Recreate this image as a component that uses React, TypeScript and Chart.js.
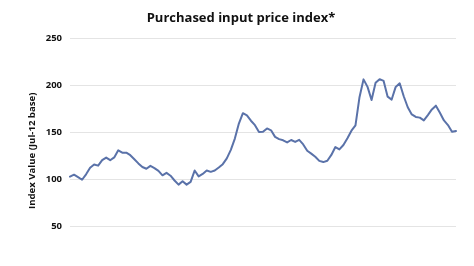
import React, { useEffect, useRef } from "react";
import { Chart, registerables } from "chart.js";

Chart.register(...registerables);

const TITLE = "Purchased input price index*";
const Y_TITLE = "Index Value (Jul-12 base)";
const Y_TICKS = [50, 100, 150, 200, 250];

const INDEX_VALUES = [
  102.5, 104.6, 102, 99.2, 105, 112, 115.4, 114.2, 120, 122.8,
  120, 123, 130.5, 128, 128, 125.3, 121, 116.6, 112.8, 110.9,
  114, 111.6, 108.7, 103.9, 106.5, 103.5, 98.4, 94, 97.6, 94,
  97, 109, 102.8, 105.4, 109, 107.6, 109, 112.2, 115.8, 122,
  131, 143, 159, 170, 167.7, 162, 157.3, 150, 150.2, 153.8,
  151.8, 144.8, 142.4, 141.2, 138.9, 141.5, 139.5, 141.6, 136.8, 130,
  127, 123.7, 119.3, 118, 119.4, 125.6, 134, 131.5, 136.2, 143.4,
  151.4, 157, 187, 206, 198, 184, 202.3, 206.2, 204.3, 187.6,
  184.5, 198, 201.8, 188, 176.3, 168.7, 166, 165.3, 162.4, 168,
  174, 178, 170.5, 162.3, 157.4, 150.3, 151,
];

const PERIODS = INDEX_VALUES.map((_, i) => `P${i + 1}`);

export default function App() {
  const ref = useRef<HTMLCanvasElement | null>(null);

  useEffect(() => {
    document.body.style.margin = "0";
    if (!ref.current) return;
    const chart = new Chart(ref.current, {
      type: "line",
      data: {
        labels: PERIODS,
        datasets: [
          {
            data: INDEX_VALUES,
            borderColor: "#5a72a9",
            borderWidth: 2,
            pointRadius: 0,
            tension: 0,
            borderJoinStyle: "round",
            borderCapStyle: "round",
            fill: false,
          },
        ],
      },
      options: {
        animation: false,
        responsive: false,
        maintainAspectRatio: false,
        layout: { padding: { left: 26, right: 18, top: 0, bottom: 0 } },
        plugins: {
          legend: { display: false },
          tooltip: { enabled: false },
          title: {
            display: true,
            text: TITLE,
            color: "#111111",
            font: { family: "'Open Sans', sans-serif", size: 13, weight: "bold", lineHeight: 1.2 },
            padding: { top: 10, bottom: 12.4 },
          },
        },
        scales: {
          x: { display: false },
          y: {
            min: 10,
            max: 250,
            bounds: "data",
            afterBuildTicks: (scale: any) => {
              scale.ticks = Y_TICKS.map((v) => ({ value: v }));
            },
            afterFit: (scale: any) => {
              scale.width = 44;
              scale.paddingBottom = 2.4;
            },
            border: { display: false },
            grid: { color: "#e4e4e4", lineWidth: 1, drawTicks: false },
            ticks: {
              padding: 8,
              color: "#111111",
              font: { family: "'Open Sans', sans-serif", size: 9.5, weight: "bold" },
            },
            title: {
              display: true,
              text: Y_TITLE,
              color: "#111111",
              font: { family: "'Open Sans', sans-serif", size: 9.6, weight: "bold", lineHeight: 1.2 },
              padding: { top: 0.3, bottom: 0 },
            },
          },
        },
      },
    });
    return () => chart.destroy();
  }, []);

  return (
    <div style={{ position: "absolute", left: 0, top: 0, width: 474, height: 266 }}>
      <canvas ref={ref} width={474} height={266} style={{ width: 474, height: 266, display: "block" }} />
    </div>
  );
}
